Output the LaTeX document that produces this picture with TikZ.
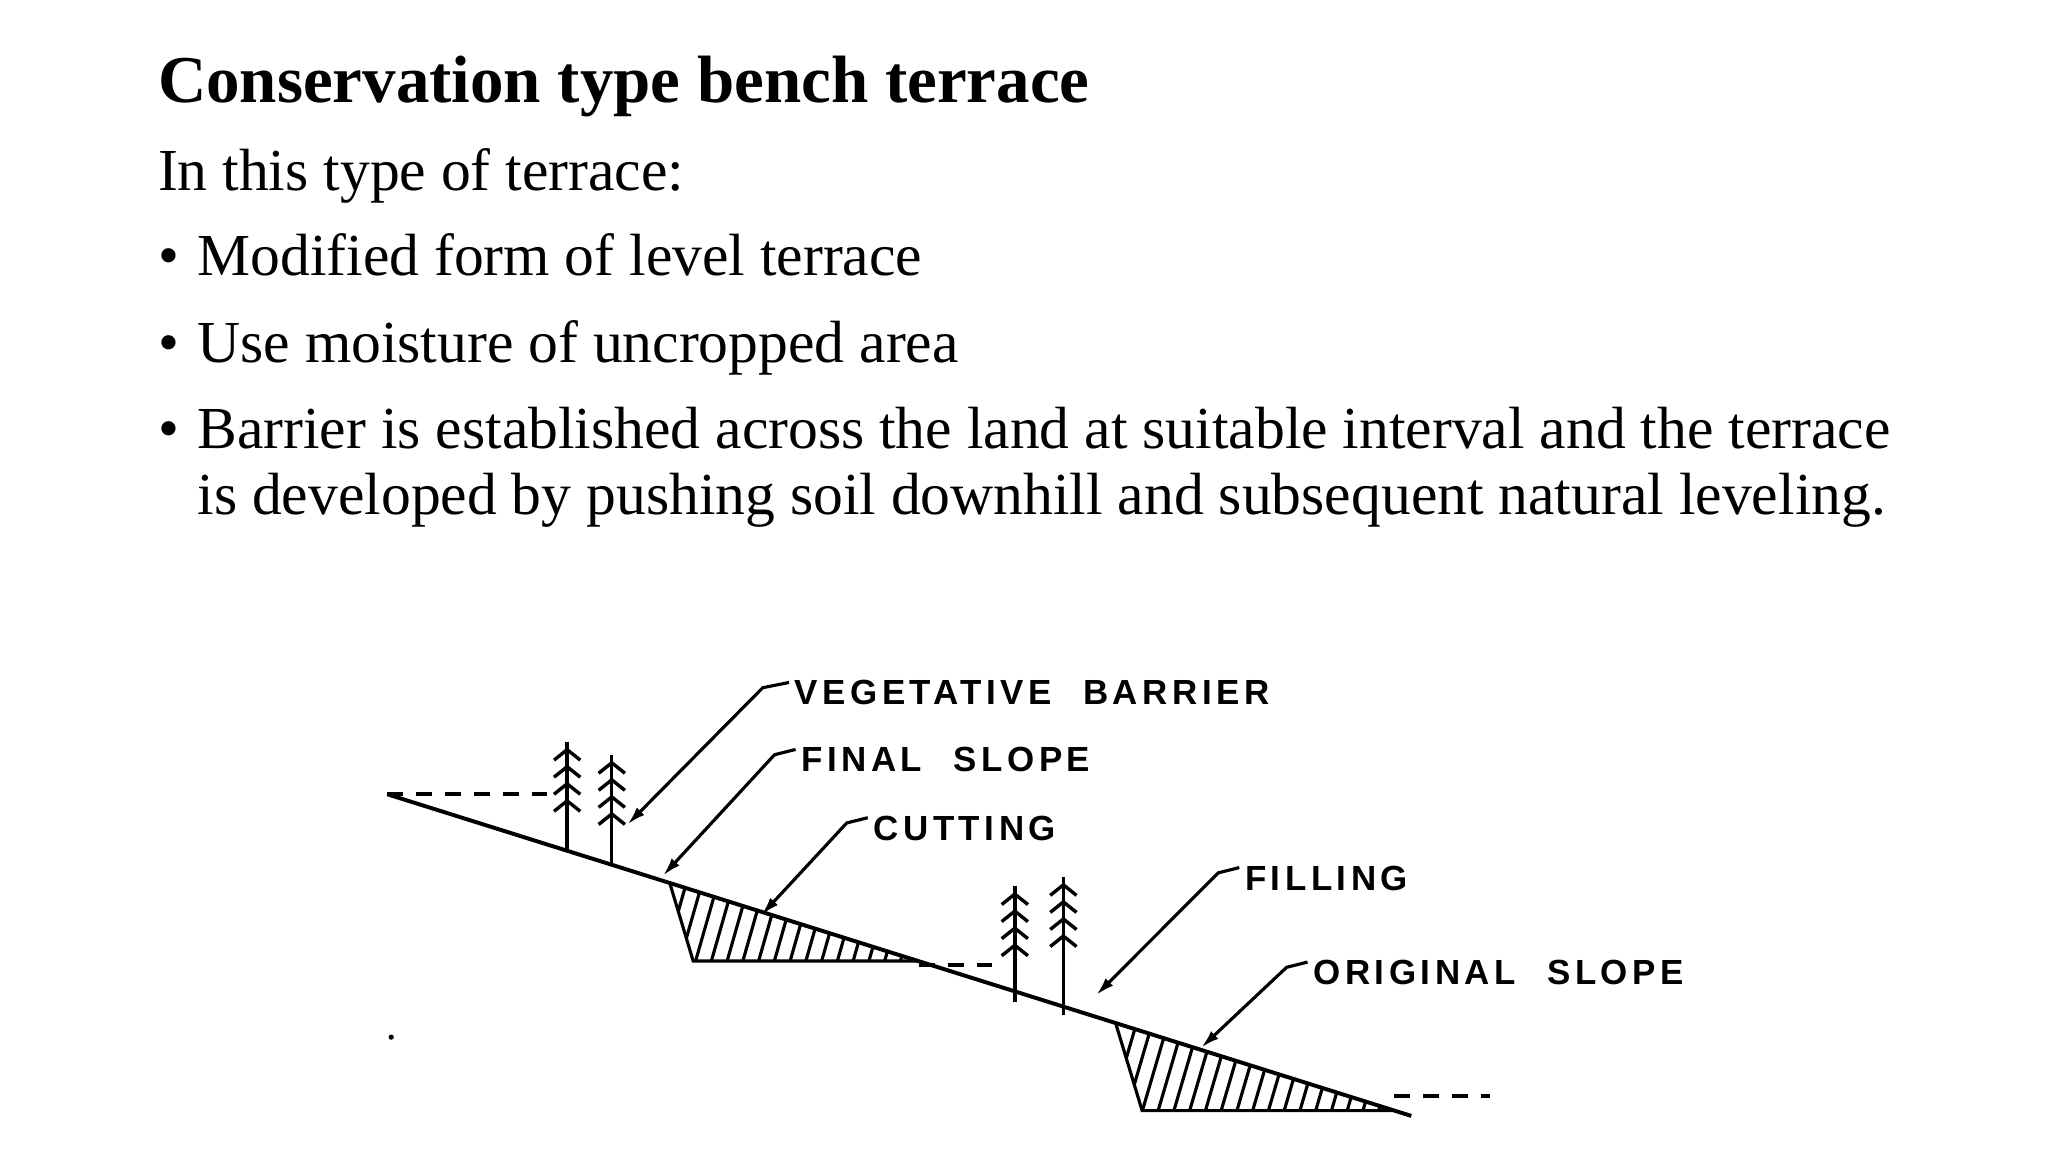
\documentclass[tikz,border=0pt]{standalone}
\usepackage{fontspec}
\setmainfont{Liberation Serif}
\newfontfamily\lblfont[LetterSpace=13]{Liberation Sans Bold}
\usetikzlibrary{arrows.meta}
\newcommand{\bul}{\makebox[0pt][r]{\makebox[30\unitlength][l]{•}}}
\begin{document}
\begin{tikzpicture}[x=0.5pt,y=-0.5pt,
  txt/.style={anchor=base west,inner sep=0pt,font=\fontsize{22.7}{27}\selectfont},
  lbl/.style={anchor=base west,inner sep=0pt,font=\lblfont\fontsize{13.3}{15}\selectfont},
  lead/.style={line width=1.2pt,-{Latex[length=7pt,width=4pt]}},
  ground/.style={line width=1.5pt},
  dsh/.style={line width=1.5pt,dash pattern=on 6pt off 5pt},
  hl/.style={line width=1.2pt}]
\useasboundingbox (0,0) rectangle (1560,878);
\node[txt,font=\bfseries\fontsize{25.5}{30}\selectfont] (title) at (120,78) {Conservation type bench terrace};
\node[txt] (l0) at (120,145) {In this type of terrace:};
\node[txt] (m1) at (120,210) {•};
\node[txt] (b1) at (150,210) {Modified form of level terrace};
\node[txt] (m2) at (120,276) {•};
\node[txt] (b2) at (150,276) {Use moisture of uncropped area};
\node[txt] (m3) at (120,342) {•};
\node[txt] (b3) at (150,342) {Barrier is established across the land at suitable interval and the terrace};
\node[txt] (b4) at (150,392) {is developed by pushing soil downhill and subsequent natural leveling.};
% ground
\coordinate (g0) at (295,605);
\coordinate (g1) at (1075,850);
\draw[ground] (g0) -- (g1);
\draw[dsh] (g0) -- (420,605);
\draw[hl] (510,672) -- (528,732) -- (699,732);
\begin{scope}
\clip (510,672) -- (528,732) -- (699,732) -- cycle;
\foreach \i in {0,...,16}{\draw[hl] (505+\i*12,735) -- (525+\i*12,665);}
\end{scope}
\draw[dsh] (700,735) -- (765,735);
\draw[hl] (850,780) -- (870,846) -- (1060,846);
\begin{scope}
\clip (850,780) -- (870,846) -- (1060,846) -- cycle;
\foreach \i in {0,...,18}{\draw[hl] (845+\i*12,850) -- (867+\i*12,775);}
\end{scope}
\draw[dsh] (1062,835) -- (1135,835);
% trees
\foreach \x/\t/\b in {432/565/648,466/575/659,773/675/763,810/668/773}{
  \draw[line width=1.3pt] (\x,\t) -- (\x,\b);
  \foreach \k in {0,1,2,3}{
    \draw[line width=1.3pt] (\x-10,\t+14+\k*13) -- (\x,\t+6+\k*13) -- (\x+10,\t+14+\k*13);
  }
}
\fill (298,790) circle (2);
% labels
\node[lbl] (vb) at (605,537) {VEGETATIVE\hspace{0.9em}BARRIER};
\node[lbl] (fs) at (610,588) {FINAL\hspace{0.9em}SLOPE};
\node[lbl] (cu) at (665,640) {CUTTING};
\node[lbl] (fi) at (948,678) {FILLING};
\node[lbl] (os) at (1000,750) {ORIGINAL\hspace{0.9em}SLOPE};
\coordinate (vbe) at (478,628);
\coordinate (fse) at (505,667);
\coordinate (cue) at (580,697);
\coordinate (fie) at (835,758);
\coordinate (ose) at (915,798);
\draw[lead] (vb.west) ++(-4,-8) -- ++(-20,4) -- (vbe);
\draw[lead] (fs.west) ++(-4,-8) -- ++(-16,4) -- (fse);
\draw[lead] (cu.west) ++(-4,-8) -- ++(-16,4) -- (cue);
\draw[lead] (fi.west) ++(-4,-8) -- ++(-16,4) -- (fie);
\draw[lead] (os.west) ++(-4,-8) -- ++(-16,4) -- (ose);
\end{tikzpicture}
\end{document}
